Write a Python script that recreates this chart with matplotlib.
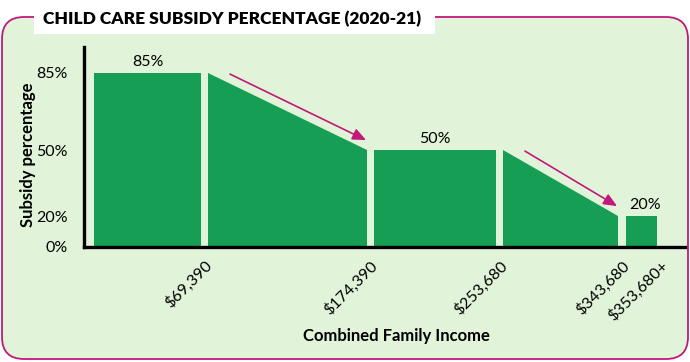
#!/usr/bin/env python3

import matplotlib
matplotlib.use("Agg")
from matplotlib import pyplot as plt
from matplotlib.patches import FancyBboxPatch, Rectangle, Polygon

# data
levels = [85, 50, 20]                      # subsidy plateaus (%)
level_labels = ["85%", "50%", "20%"]
income_labels = ["$69,390", "$174,390", "$253,680", "$343,680", "$353,680+"]
y_ticks = [85, 50, 20]
y_tick_labels = ["85%", "50%", "20%"]

# schematic layout along the x axis (not to income scale)
flat_spans = [(10, 117), (290, 412), (542, 573)]
slope_spans = [(124, 283), (419, 534)]
income_pos = [120, 286, 416, 538, 576]

green = "#169E55"
magenta = "#C2187A"
bg = "#E1F4D9"
font = "Lato"

plt.rcParams["font.family"] = [font, "DejaVu Sans"]

fig = plt.figure(figsize=(6.9, 3.62), dpi=100)

# background panel in pixel coordinates
bgax = fig.add_axes([0, 0, 1, 1])
bgax.set_xlim(0, 690)
bgax.set_ylim(362, 0)
bgax.axis("off")
bgax.add_patch(FancyBboxPatch((10, 25), 670, 326, boxstyle="round,pad=8,rounding_size=22",
                              facecolor=bg, edgecolor=magenta, lw=1.3))
bgax.add_patch(Rectangle((34, 5), 401, 29, facecolor="white", edgecolor="none"))
bgax.text(232, 19, "CHILD CARE SUBSIDY PERCENTAGE (2020-21)", ha="center", va="center",
          fontsize=12.5, fontweight="heavy")

# the reference's y axis is schematic: baseline sits a little above 0
px_per_pct = 2.2
y_base = 85 - (247 - 73) / px_per_pct
ax = fig.add_axes([84 / 690, 1 - 247 / 362, 601 / 690, 200 / 362])
ax.set_facecolor("none")
ax.set_xlim(0, 601)
ax.set_ylim(y_base, y_base + 200 / px_per_pct)

for (x0, x1), v in zip(flat_spans, levels):
    ax.add_patch(Rectangle((x0, y_base), x1 - x0, v - y_base, facecolor=green, edgecolor="none"))
for (x0, x1), v0, v1 in zip(slope_spans, levels[:-1], levels[1:]):
    ax.add_patch(Polygon([(x0, y_base), (x0, v0), (x1, v1), (x1, y_base)], closed=True,
                         facecolor=green, edgecolor="none"))
    ax.annotate("", xy=(x1 - 1, v1 + 4.5), xytext=(x0 + 22, v0 - 0.5),
                arrowprops=dict(arrowstyle="-|>,head_length=0.8,head_width=0.35",
                                color=magenta, lw=1.2, shrinkA=0, shrinkB=0))

for (x0, x1), v, lab in zip(flat_spans, levels, level_labels):
    ax.text((x0 + x1) / 2 + (4 if v == 20 else 0), v + 2, lab, ha="center", va="bottom", fontsize=11.5)

ax.set_yticks(y_ticks + [y_base])
ax.set_yticklabels(y_tick_labels + ["0%"], fontsize=11.5)
ax.set_xticks(income_pos)
ax.set_xticklabels(income_labels, fontsize=11.5, rotation=45, ha="right", rotation_mode="anchor")
ax.tick_params(axis="both", length=0)
ax.tick_params(axis="x", pad=8)
ax.tick_params(axis="y", pad=12)

for s in ["top", "right"]:
    ax.spines[s].set_visible(False)
for s in ["left", "bottom"]:
    ax.spines[s].set_linewidth(2.4)
    ax.spines[s].set_color("black")

ax.set_ylabel("Subsidy percentage", fontsize=12, fontweight="bold")
ax.yaxis.set_label_coords(-48 / 601, 92 / 200)
ax.set_xlabel("Combined Family Income", fontsize=12, fontweight="bold")
ax.xaxis.set_label_coords(312 / 601, -81 / 200)

fig.savefig("out.png", dpi=100)
